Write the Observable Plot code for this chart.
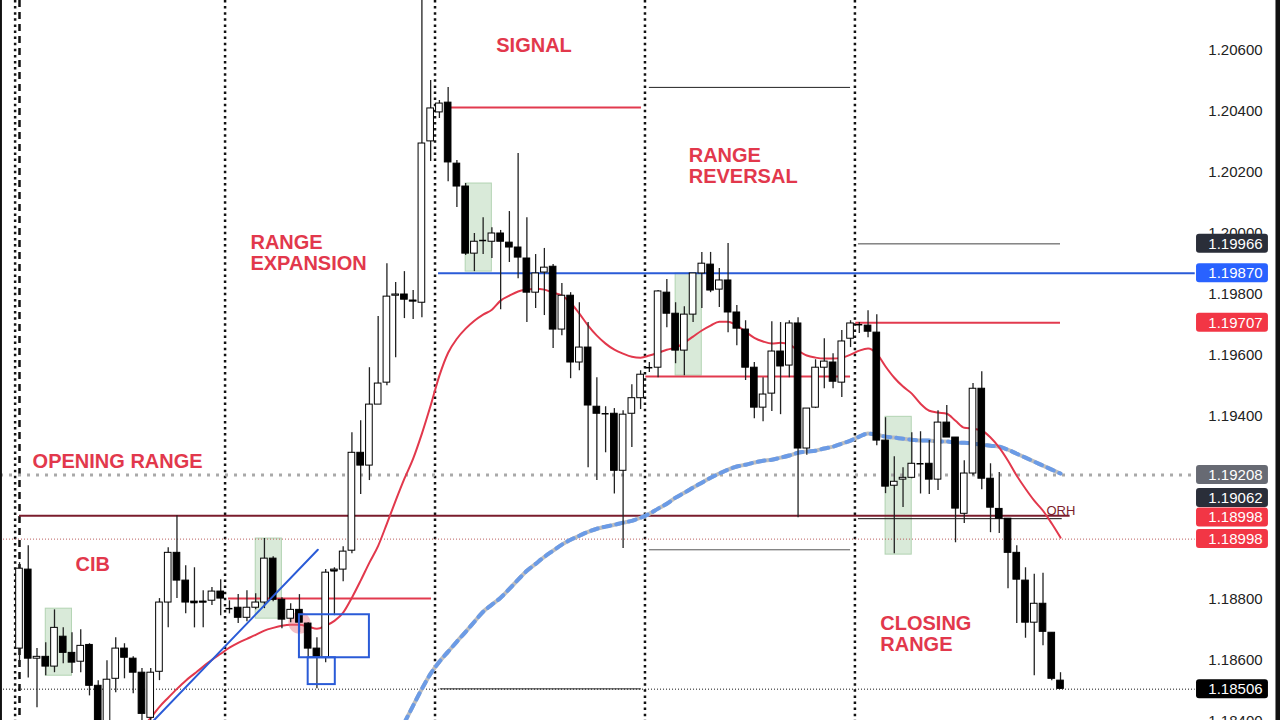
<!DOCTYPE html>
<html><head><meta charset="utf-8">
<script src="https://cdn.jsdelivr.net/npm/d3@7"></script>
<script src="https://cdn.jsdelivr.net/npm/@observablehq/plot@0.6"></script>
<style>html,body{margin:0;padding:0;background:#fff;overflow:hidden}svg{overflow:hidden;display:block}</style>
</head><body><div id="chart"></div>
<script>
// ---- candle data (EURUSD-like intraday), index 0..119 ----
const opens = [1.18639,1.18898,1.18606,1.18612,1.18580,1.18678,1.18625,1.18596,1.18651,1.18517,
1.18386,1.18540,1.18639,1.18606,1.18560,1.18412,1.18563,1.18790,1.18953,1.18862,
1.18790,1.18793,1.18796,1.18826,1.18770,1.18773,1.18740,1.18773,1.18790,1.18934,
1.18799,1.18737,1.18766,1.18721,1.18639,1.18609,1.18894,1.18898,1.18960,1.19281,
1.19239,1.19439,1.19511,1.19796,1.19800,1.19780,1.19773,1.20302,1.20397,1.20429,
1.20229,1.20154,1.19934,1.19977,1.19973,1.20000,1.19970,1.19954,1.19918,1.19806,
1.19872,1.19891,1.19685,1.19796,1.19577,1.19626,1.19432,1.19409,1.19409,1.19222,
1.19409,1.19460,1.19560,1.19560,1.19806,1.19737,1.19616,1.19734,1.19869,1.19898,
1.19816,1.19846,1.19741,1.19685,1.19560,1.19429,1.19475,1.19613,1.19567,1.19705,
1.19295,1.19429,1.19560,1.19577,1.19511,1.19655,1.19701,1.19698,1.19675,1.19321,
1.19173,1.19193,1.19199,1.19245,1.19245,1.19193,1.19380,1.19331,1.19081,1.19213,
1.19491,1.19196,1.19097,1.19065,1.18953,1.18862,1.18724,1.18786,1.18691,1.18534];
const highs = [1.18921,1.18976,1.18639,1.18658,1.18766,1.18707,1.18691,1.18701,1.18655,1.18534,
1.18599,1.18675,1.18655,1.18612,1.18574,1.18574,1.18803,1.18970,1.19075,1.18911,
1.18904,1.18829,1.18839,1.18865,1.18796,1.18816,1.18829,1.18819,1.19000,1.18940,
1.18806,1.18786,1.18816,1.18724,1.18675,1.18898,1.18904,1.18973,1.19347,1.19386,
1.19560,1.19728,1.19901,1.19839,1.19875,1.19813,1.20780,1.20502,1.20436,1.20479,
1.20239,1.20164,1.20000,1.20052,1.20019,1.20010,1.20072,1.20262,1.20052,1.19931,
1.19951,1.19898,1.19836,1.19806,1.19773,1.19708,1.19527,1.19432,1.19426,1.19419,
1.19504,1.19550,1.19577,1.19813,1.19849,1.19773,1.19760,1.19869,1.19938,1.19938,
1.19885,1.19967,1.19764,1.19714,1.19577,1.19527,1.19711,1.19708,1.19714,1.19724,
1.19426,1.19586,1.19655,1.19606,1.19682,1.19714,1.19708,1.19747,1.19734,1.19396,
1.19268,1.19232,1.19347,1.19350,1.19321,1.19419,1.19436,1.19331,1.19255,1.19508,
1.19547,1.19245,1.19216,1.19065,1.18976,1.18904,1.18883,1.18886,1.18691,1.18560];
const lows = [1.18583,1.18543,1.18445,1.18550,1.18560,1.18589,1.18557,1.18560,1.18484,1.18363,
1.18353,1.18494,1.18540,1.18491,1.18386,1.18376,1.18534,1.18707,1.18803,1.18753,
1.18707,1.18707,1.18780,1.18747,1.18753,1.18721,1.18727,1.18766,1.18770,1.18793,
1.18704,1.18724,1.18691,1.18609,1.18507,1.18593,1.18747,1.18858,1.18950,1.19144,
1.19190,1.19439,1.19501,1.19593,1.19721,1.19718,1.19724,1.20236,1.20377,1.20170,
1.20085,1.19928,1.19875,1.19931,1.19918,1.19750,1.19905,1.19852,1.19708,1.19754,
1.19731,1.19623,1.19665,1.19524,1.19550,1.19232,1.19190,1.19281,1.19146,1.18967,
1.19298,1.19423,1.19544,1.19527,1.19691,1.19573,1.19534,1.19708,1.19754,1.19806,
1.19757,1.19675,1.19632,1.19518,1.19393,1.19383,1.19416,1.19406,1.19527,1.19068,
1.19273,1.19426,1.19491,1.19491,1.19462,1.19626,1.19672,1.19658,1.19304,1.19147,
1.18950,1.19102,1.19196,1.19146,1.19144,1.19157,1.19331,1.18986,1.19049,1.19206,
1.19160,1.19019,1.19016,1.18835,1.18721,1.18673,1.18550,1.18648,1.18534,1.18506];
const closes = [1.18901,1.18606,1.18612,1.18580,1.18707,1.18625,1.18593,1.18648,1.18517,1.18396,
1.18537,1.18639,1.18609,1.18560,1.18425,1.18560,1.18790,1.18953,1.18862,1.18790,
1.18793,1.18790,1.18826,1.18803,1.18770,1.18740,1.18773,1.18790,1.18934,1.18799,
1.18734,1.18766,1.18724,1.18639,1.18609,1.18888,1.18898,1.18957,1.19281,1.19239,
1.19439,1.19508,1.19793,1.19800,1.19783,1.19777,1.20295,1.20410,1.20426,1.20233,
1.20154,1.19934,1.19973,1.19977,1.20000,1.19973,1.19954,1.19921,1.19806,1.19869,
1.19888,1.19685,1.19796,1.19577,1.19626,1.19436,1.19409,1.19409,1.19222,1.19406,
1.19460,1.19537,1.19560,1.19810,1.19737,1.19616,1.19734,1.19869,1.19901,1.19813,
1.19846,1.19741,1.19688,1.19560,1.19429,1.19472,1.19613,1.19564,1.19705,1.19295,
1.19426,1.19560,1.19580,1.19514,1.19646,1.19705,1.19701,1.19678,1.19321,1.19170,
1.19186,1.19199,1.19245,1.19245,1.19193,1.19380,1.19331,1.19098,1.19213,1.19491,
1.19196,1.19101,1.19065,1.18953,1.18865,1.18724,1.18786,1.18694,1.18540,1.18507];

// fast moving average (red), starts at candle 14
const fastStart = 14;
const fastMA = [1.18379,1.18412,1.18448,1.18478,1.18507,1.18534,1.18557,1.18580,1.18602,1.18622,
1.18642,1.18658,1.18671,1.18684,1.18698,1.18707,1.18714,1.18717,1.18717,1.18711,
1.18704,1.18714,1.18730,1.18757,1.18806,1.18862,1.18921,1.18976,1.19049,1.19124,
1.19196,1.19262,1.19344,1.19436,1.19534,1.19609,1.19655,1.19688,1.19714,1.19734,
1.19750,1.19780,1.19796,1.19810,1.19816,1.19819,1.19816,1.19806,1.19796,1.19773,
1.19737,1.19698,1.19665,1.19639,1.19619,1.19606,1.19596,1.19593,1.19600,1.19609,
1.19619,1.19626,1.19642,1.19662,1.19682,1.19698,1.19711,1.19711,1.19698,1.19678,
1.19658,1.19646,1.19639,1.19642,1.19636,1.19616,1.19600,1.19593,1.19590,1.19590,
1.19593,1.19603,1.19616,1.19623,1.19606,1.19564,1.19527,1.19498,1.19475,1.19442,
1.19419,1.19413,1.19409,1.19386,1.19363,1.19360,1.19354,1.19331,1.19298,1.19255,
1.19206,1.19163,1.19124,1.19091,1.19049,1.19003];
// slow moving average (blue/grey dashed), starts at candle 44
const slowStart = 44;
const slowMA = [1.18396,1.18452,1.18507,1.18557,1.18596,1.18629,1.18662,1.18694,1.18727,1.18760,
1.18783,1.18806,1.18835,1.18865,1.18894,1.18917,1.18940,1.18960,1.18980,1.18996,
1.19009,1.19022,1.19032,1.19039,1.19045,1.19052,1.19058,1.19068,1.19081,1.19098,
1.19114,1.19134,1.19150,1.19167,1.19183,1.19199,1.19213,1.19226,1.19236,1.19242,
1.19249,1.19255,1.19258,1.19265,1.19272,1.19281,1.19285,1.19288,1.19295,1.19301,
1.19311,1.19321,1.19334,1.19344,1.19340,1.19334,1.19331,1.19327,1.19324,1.19321,
1.19321,1.19318,1.19318,1.19314,1.19314,1.19311,1.19308,1.19304,1.19301,1.19291,
1.19278,1.19265,1.19252,1.19239,1.19226,1.19213];

const priceTicks = [1.206,1.204,1.202,1.200,1.198,1.196,1.194,1.192,1.190,1.188,1.186,1.184];
const sessionBreaks = [-0.5, 23.5, 47.5, 71.5, 95.5];

// full-width level lines
const fullLevels = [
  {v:1.19208, stroke:"#a9a9a9", w:3, dash:"3,6"},
  {v:1.18998, stroke:"#b85a5a", w:1, dash:"1,2"},
  {v:1.18506, stroke:"#111", w:1, dash:"1,2"}
];
// session level segments (price, from candle, to candle)
const segLevels = [
  {v:1.20413, a:49, b:71.1, stroke:"#e23a4e", w:2},
  {v:1.18507, a:48.1, b:71.1, stroke:"#222", w:1},
  {v:1.20479, a:72, b:95, stroke:"#222", w:1},
  {v:1.18963, a:72, b:95, stroke:"#555", w:1},
  {v:1.19531, a:71.6, b:95, stroke:"#e23a4e", w:2},
  {v:1.18803, a:23.9, b:47.1, stroke:"#e23a4e", w:2},
  {v:1.19966, a:95.9, b:119, stroke:"#444", w:1},
  {v:1.19707, a:95.6, b:119, stroke:"#e23a4e", w:2},
  {v:1.19065, a:95.9, b:119.2, stroke:"#111", w:1},
  {v:1.19870, a:47.9, b:134.4, stroke:"#2a5bd7", w:2},
  {v:1.19075, a:0, b:120.1, stroke:"#7a1c2c", w:2}
];
// highlighted 3-candle zones
const zones = [
  {a:3, b:6, lo:1.18550, hi:1.18770},
  {a:27, b:30, lo:1.18737, hi:1.19000},
  {a:51, b:54, lo:1.19875, hi:1.20164},
  {a:75, b:78, lo:1.19534, hi:1.19869},
  {a:99, b:102, lo:1.18947, hi:1.19399}
];
const blueBoxes = [
  {a:32, b:40, lo:1.18609, hi:1.18750},
  {a:33, b:36.1, lo:1.18521, hi:1.18609}
];
const trendLine = [{i:15.3, p:1.18402},{i:34.1, p:1.18963}];
const touchPoint = [{i:32, p:1.18724}];

const annotations = [
  {i:54.5, p:1.20616, t:"SIGNAL"},
  {i:76.5, p:1.20256, t:"RANGE"},
  {i:76.5, p:1.20187, t:"REVERSAL"},
  {i:26.4, p:1.19970, t:"RANGE"},
  {i:26.4, p:1.19901, t:"EXPANSION"},
  {i:1.5, p:1.19252, t:"OPENING RANGE"},
  {i:6.4, p:1.18914, t:"CIB"},
  {i:98.4, p:1.18721, t:"CLOSING"},
  {i:98.4, p:1.18651, t:"RANGE"}
];
const tags = [
  {v:1.19966, fill:"#2a2e39", up:false},
  {v:1.19870, fill:"#2962ff", up:false},
  {v:1.19707, fill:"#f23645", up:false},
  {v:1.19208, fill:"#676a73", up:false},
  {v:1.19062, fill:"#2a2e39", up:true},
  {v:1.18998, fill:"#f23645", up:true},
  {v:1.18998, fill:"#f23645", up:false},
  {v:1.18506, fill:"#000000", up:false}
];

const candles = opens.map((o, i) => ({i, o, h: highs[i], l: lows[i], c: closes[i]}));
const fast = fastMA.map((p, k) => ({i: fastStart + k, p}));
const slow = slowMA.map((p, k) => ({i: slowStart + k, p}));

const Y0 = 1.184, Y1 = 1.206, PY0 = 721, PY1 = 50;
const pxPerPrice = (PY0 - PY1) / (Y1 - Y0);
const tagHalf = 9.5 / pxPerPrice;
const AXIS_X = 142.1, TAG_L = 134.55, TAG_R = 142.77, LEFT_X = -2.17, RIGHT_X = 134.4;
const RED = "#e2384c";

function tagMarks(up) {
  const f = d => d.up === up;
  const dy = up ? -21.5 : 0;
  return [
    Plot.rect(tags, {filter: f, x1: () => TAG_L, x2: () => TAG_R, y1: d => d.v - tagHalf, y2: d => d.v + tagHalf, fill: "fill", rx: 3, dy}),
    Plot.text(tags, {filter: f, x: () => AXIS_X, y: "v", text: d => d.v.toFixed(5), textAnchor: "end", fill: "white", fontSize: 15, dy})
  ];
}

const chart = Plot.plot({
  width: 1280, height: 720,
  marginTop: 0, marginRight: 0, marginBottom: 0, marginLeft: 0,
  style: {fontFamily: "'Liberation Sans', Arial, sans-serif", background: "white"},
  x: {domain: [0, 119], range: [19, 1060], axis: null},
  y: {domain: [Y0, Y1], range: [PY0, PY1], axis: null},
  marks: [
    Plot.rect(zones, {x1: "a", x2: "b", y1: "lo", y2: "hi", fill: "#9cc79c", fillOpacity: 0.38, stroke: "#8fbf8f", strokeOpacity: 0.6}),
    Plot.ruleX(sessionBreaks, {x: d => d, stroke: "#111", strokeWidth: 2.5, strokeDasharray: "2.5,3.6"}),
    Plot.ruleX([0], {x: d => d, stroke: "#111", strokeWidth: 2.5, strokeDasharray: "7,5"}),
    ...fullLevels.map(L => Plot.ruleY([L], {y: "v", x1: () => LEFT_X, x2: () => RIGHT_X, stroke: L.stroke, strokeWidth: L.w, strokeDasharray: L.dash})),
    ...segLevels.map(L => Plot.ruleY([L], {y: "v", x1: "a", x2: "b", stroke: L.stroke, strokeWidth: L.w})),
    Plot.line(slow, {x: "i", y: "p", stroke: "#bdbdbd", strokeWidth: 4, curve: "monotone-x"}),
    Plot.line(slow, {x: "i", y: "p", stroke: "#6b9be6", strokeWidth: 4, strokeDasharray: "7,6", curve: "monotone-x"}),
    Plot.line(fast, {x: "i", y: "p", stroke: RED, strokeWidth: 2, curve: "monotone-x"}),
    Plot.dot(touchPoint, {x: "i", y: "p", r: 11, fill: "#e8707f", fillOpacity: 0.45}),
    Plot.ruleX(candles, {x: "i", y1: "l", y2: "h", stroke: "#222", strokeWidth: 1.3}),
    Plot.rect(candles, {x1: d => d.i - 0.38, x2: d => d.i + 0.38, y1: "o", y2: "c", fill: d => d.c >= d.o ? "white" : "black", stroke: "black", strokeWidth: 1}),
    Plot.ruleY(candles, {filter: d => Math.abs(d.o - d.c) < 0.00004, y: "o", x1: d => d.i - 0.4, x2: d => d.i + 0.4, stroke: "black", strokeWidth: 1.5}),
    Plot.line(trendLine, {x: "i", y: "p", stroke: "#2a5bd7", strokeWidth: 2}),
    Plot.rect(blueBoxes, {x1: "a", x2: "b", y1: "lo", y2: "hi", fill: "none", stroke: "#2a5bd7", strokeWidth: 2}),
    Plot.text([{i: 117.4, p: 1.19075}], {x: "i", y: "p", text: () => "ORH", textAnchor: "start", fill: "#7a1c2c", fontSize: 13, dy: -5}),
    Plot.text(annotations, {x: "i", y: "p", text: "t", textAnchor: "start", fill: RED, fontSize: 20, fontWeight: "bold"}),
    Plot.text(priceTicks, {x: () => AXIS_X, y: d => d, text: d => d.toFixed(5), textAnchor: "end", fill: "#222", fontSize: 15}),
    ...tagMarks(false),
    ...tagMarks(true),
    Plot.ruleX([LEFT_X + 0.05], {x: d => d, stroke: "#111", strokeWidth: 2}),
    Plot.ruleX([143.86], {x: d => d, stroke: "#111", strokeWidth: 5})
  ]
});
document.getElementById("chart").appendChild(chart);
</script>
</body></html>
